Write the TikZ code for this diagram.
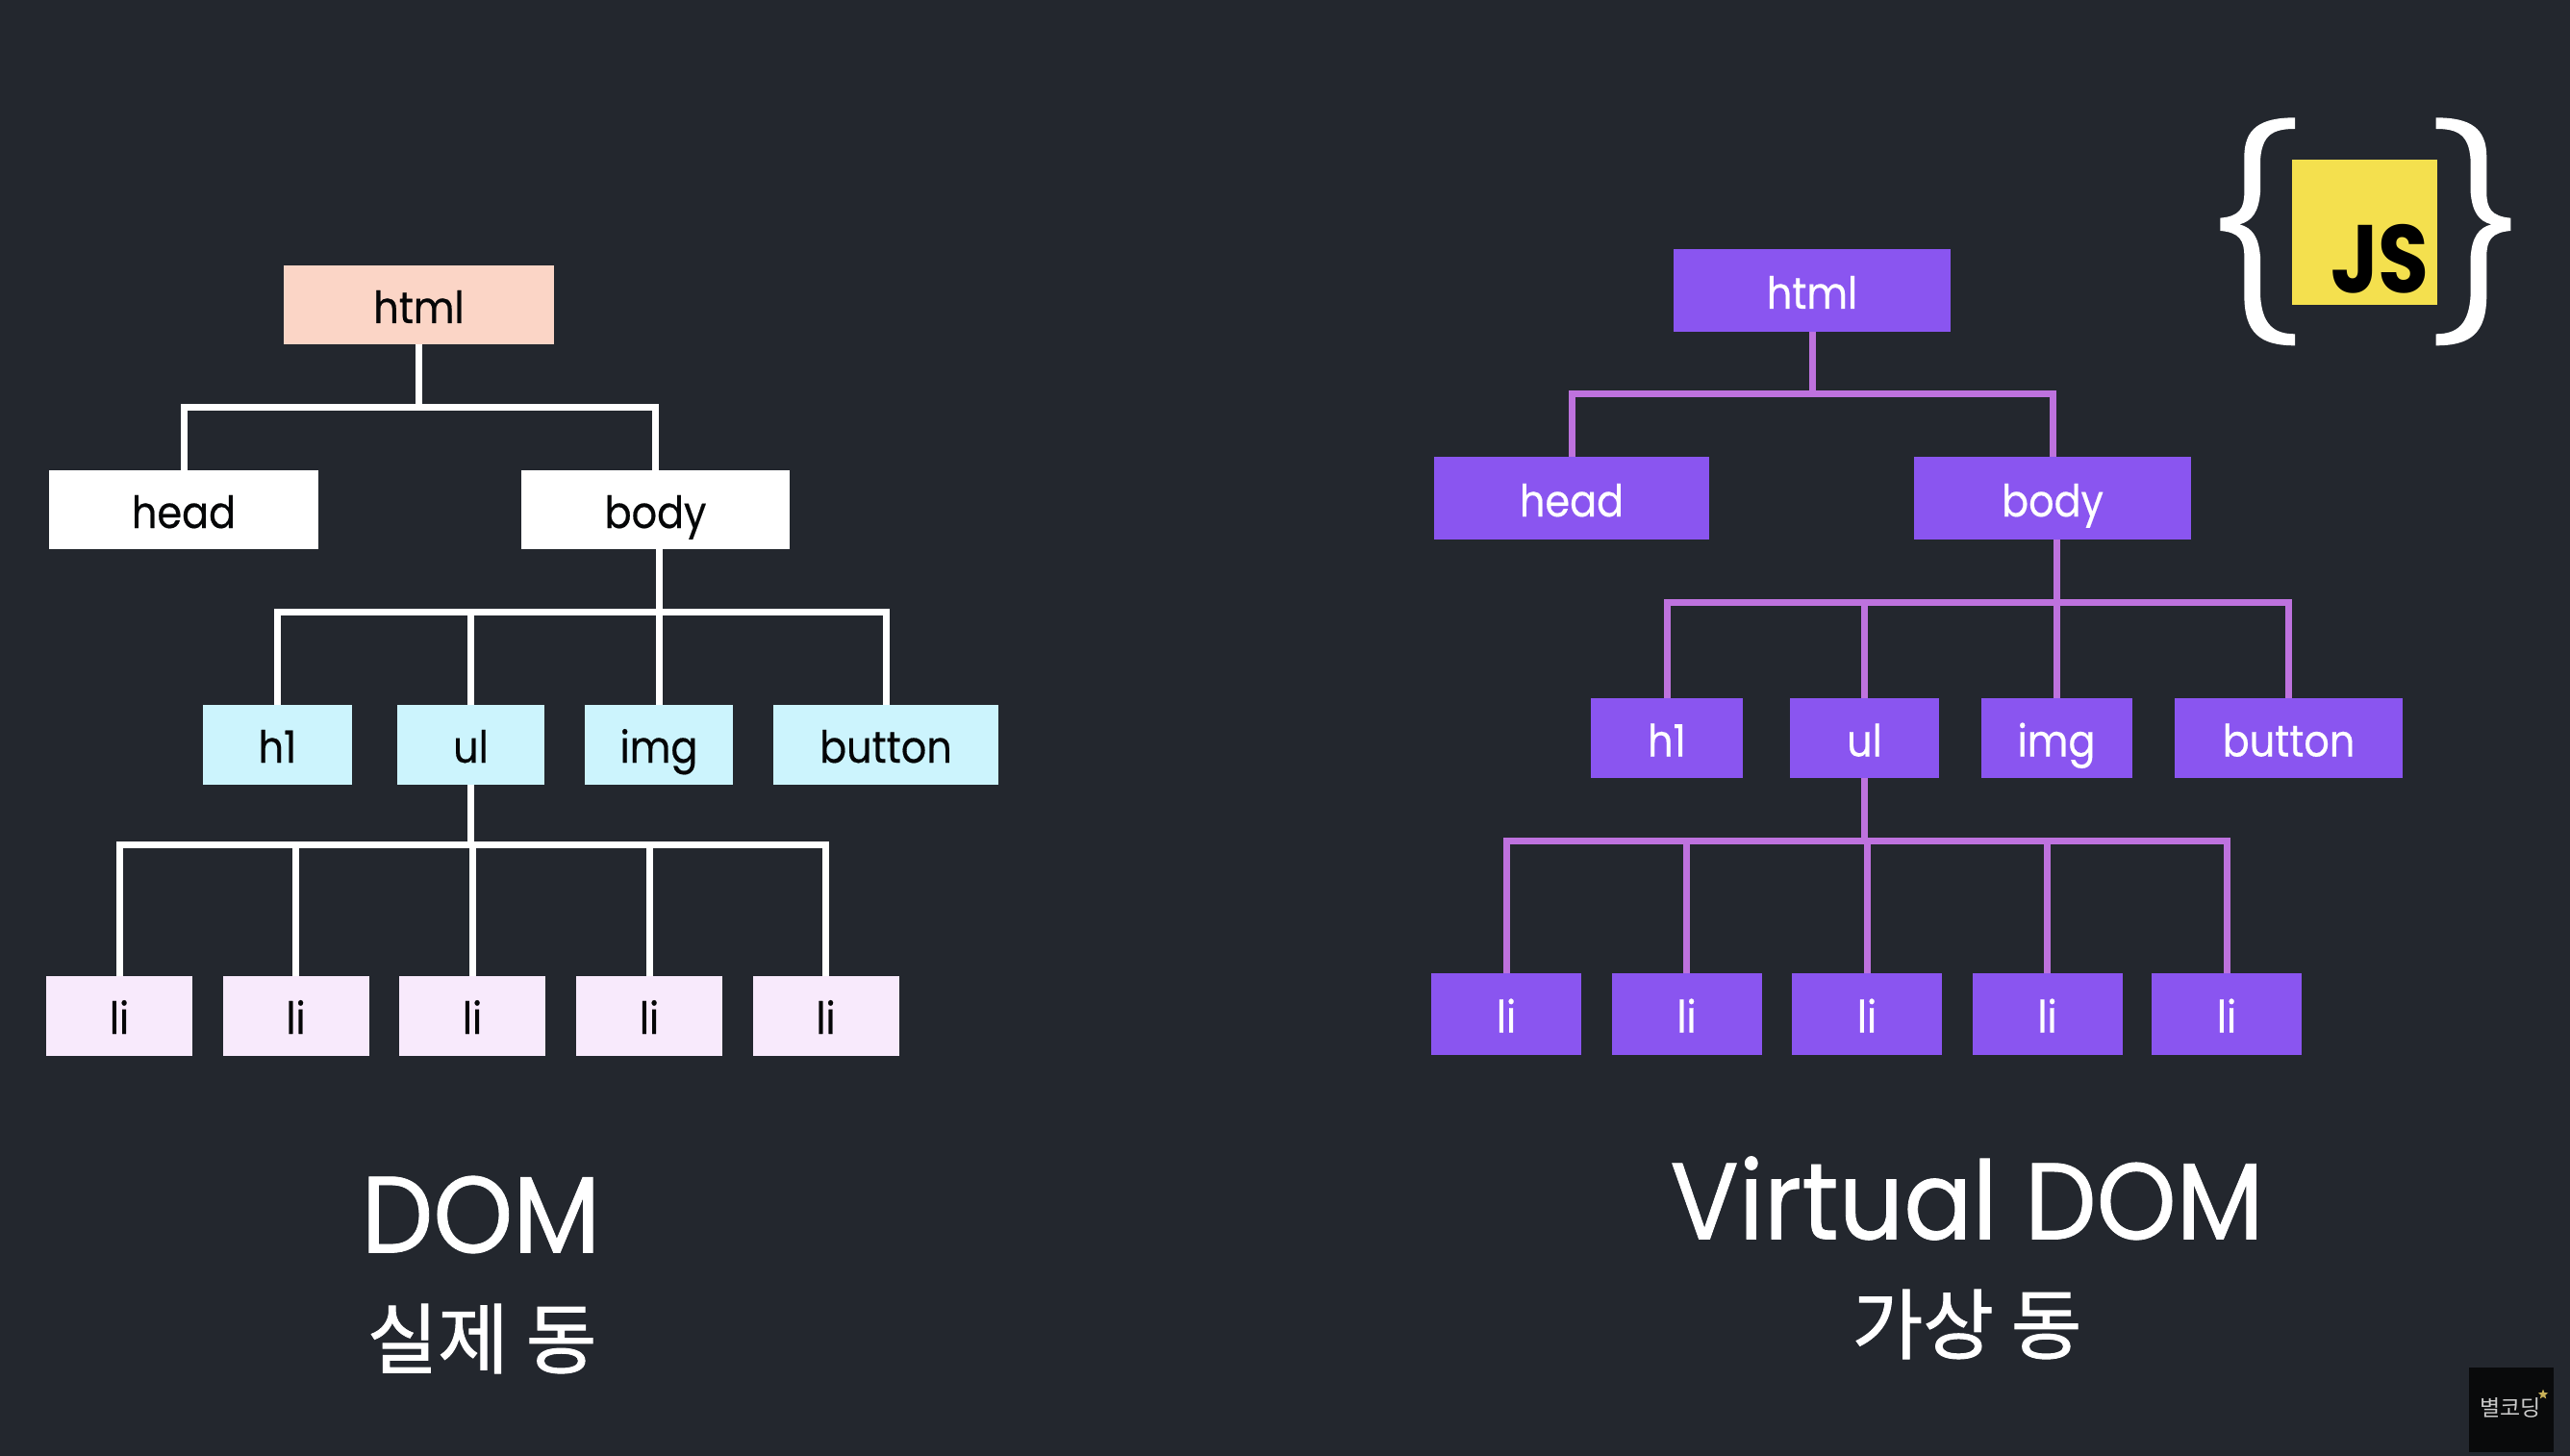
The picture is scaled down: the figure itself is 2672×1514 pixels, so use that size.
\documentclass[tikz,border=0pt]{standalone}
\usepackage{fontspec}
\usetikzlibrary{shapes.geometric}
\setmainfont{Poppins}[FakeStretch=0.9,FakeBold=0.4]
\newfontfamily\titlefont{Poppins}[FakeStretch=0.935,FakeBold=0.7]
\newfontfamily\jsfont{Poppins}[FakeStretch=0.86]
\newfontfamily\krfont{Noto Sans CJK KR}[FakeBold=1.2]
\newfontfamily\krsmall{Noto Sans CJK KR}
\definecolor{bgc}{HTML}{23272E}
\definecolor{salmon}{HTML}{FBD5C6}
\definecolor{cyanb}{HTML}{CCF4FD}
\definecolor{lilac}{HTML}{F8EAFC}
\definecolor{purp}{HTML}{8A55F0}
\definecolor{purpl}{HTML}{BE72DE}
\definecolor{jsy}{HTML}{F4E04E}
\definecolor{gold}{HTML}{C9B158}
\tikzset{
 tbox/.style={rectangle,inner sep=0pt,outer sep=0pt,font=\fontsize{46}{46}\selectfont,text height=43pt,text depth=5pt},
 lbox/.style={tbox,fill=#1,text=black!85!bgc},
 vbox/.style={tbox,fill=purp,text=white},
 wline/.style={draw=white,line width=7pt},
 pline/.style={draw=purpl,line width=7pt},
 title/.style={text=white,inner sep=0pt,font=\titlefont\fontsize{#1}{#1}\selectfont},
 krtitle/.style={text=white,inner sep=0pt,font=\krfont\fontsize{#1}{#1}\selectfont}
}
\begin{document}
\begin{tikzpicture}[x=1pt,y=-1pt]
\fill[bgc] (0,0) rectangle (2672,1514);
\useasboundingbox (0,0) rectangle (2672,1514);
% --- DOM tree
\node[lbox=salmon,minimum width=281pt,minimum height=82pt] (html) at (435.5,317) {html};
\node[lbox=white,minimum width=280pt,minimum height=82pt] (head) at (191,530) {head};
\node[lbox=white,minimum width=279pt,minimum height=82pt] (body) at (681.5,530) {body};
\node[lbox=cyanb,minimum width=155pt,minimum height=83pt] (h1) at (288.5,774) {h1};
\node[lbox=cyanb,minimum width=153pt,minimum height=83pt] (ul) at (489.5,774) {ul};
\node[lbox=cyanb,minimum width=154pt,minimum height=83pt] (img) at (685,774) {img};
\node[lbox=cyanb,minimum width=234pt,minimum height=83pt] (button) at (921,774) {button};
\foreach \n/\x in {la/124,lb/307.5,lc/491,ld/675,le/858.5}
  \node[lbox=lilac,minimum width=152pt,minimum height=83pt] (\n) at (\x,1056) {li};
\coordinate (busa) at (436,423);
\coordinate (busb) at (685,636);
\coordinate (busc) at (490,878);
\draw[wline] (html.south) -- (html.south |- busa);
\draw[wline] (head.north) |- (busa);
\draw[wline] (body.north) |- (busa);
\draw[wline] ([xshift=3.5pt]body.south) -- (busb);
\draw[wline] (h1.north) |- (busb);
\draw[wline] (ul.north) |- (busb);
\draw[wline] (img.north) -- (busb);
\draw[wline] (button.north) |- (busb);
\draw[wline] (ul.south) -- (ul.south |- busc);
\foreach \n in {la,lb,lc,ld,le} \draw[wline] (\n.north) |- (busc);
% --- Virtual DOM tree
\node[vbox,minimum width=288pt,minimum height=85pt] (vhtml) at (1884,302) {html};
\node[vbox,minimum width=286pt,minimum height=86pt] (vhead) at (1634,518) {head};
\node[vbox,minimum width=288pt,minimum height=86pt] (vbody) at (2134,518) {body};
\node[vbox,minimum width=158pt,minimum height=83pt] (vh1) at (1733,767.5) {h1};
\node[vbox,minimum width=155pt,minimum height=83pt] (vul) at (1938.5,767.5) {ul};
\node[vbox,minimum width=157pt,minimum height=83pt] (vimg) at (2138,767.5) {img};
\node[vbox,minimum width=237pt,minimum height=83pt] (vbutton) at (2379.5,767.5) {button};
\foreach \n/\x in {va/1566,vb/1753.5,vc/1941,vd/2128.5,ve/2315}
  \node[vbox,minimum width=156pt,minimum height=85pt] (\n) at (\x,1054.5) {li};
\coordinate (vbusa) at (1885,409);
\coordinate (vbusb) at (2138,626);
\coordinate (vbusc) at (1940,874);
\draw[pline] (vhtml.south) -- (vhtml.south |- vbusa);
\draw[pline] (vhead.north) |- (vbusa);
\draw[pline] (vbody.north) |- (vbusa);
\draw[pline] ([xshift=4pt]vbody.south) -- (vbusb);
\draw[pline] (vh1.north) |- (vbusb);
\draw[pline] (vul.north) |- (vbusb);
\draw[pline] (vimg.north) -- (vbusb);
\draw[pline] (vbutton.north) |- (vbusb);
\draw[pline] (vul.south) -- (vul.south |- vbusc);
\foreach \n in {va,vb,vc,vd,ve} \draw[pline] (\n.north) |- (vbusc);
% --- titles
\node[title=113] (tdom) at (500,1263) {DOM};
\node[krtitle=80] (tkr) at (501,1392) {실제 동};
\node[title=113] (tvdom) at (2045,1246) {Virtual DOM};
\node[krtitle=80] (tvkr) at (2045,1377) {가상 동};
% --- JS logo
\fill[jsy] (2383,166) rectangle (2534,317);
\node[inner sep=0pt,text=black,font=\jsfont\fontsize{100}{100}\bfseries\selectfont,anchor=base east] (js) at (2526,305) {JS};
\begin{scope}[shift={(2250,90)},x=0.3333pt,y=-0.3333pt]
\fill[white] (408,97) -- (408,132) .. controls (340,132) and (305,150) .. (300,230) -- (300,330)
 .. controls (295,390) and (275,420) .. (235,430) .. controls (275,440) and (295,470) .. (300,530)
 -- (300,650) .. controls (305,740) and (340,772) .. (408,772) -- (408,808)
 .. controls (300,808) and (250,770) .. (250,650) -- (250,530) .. controls (250,480) and (235,455) .. (175,450)
 -- (175,410) .. controls (235,405) and (250,380) .. (250,330) -- (250,220)
 .. controls (250,130) and (300,97) .. (408,97) -- cycle;
\fill[white] (848,97) -- (848,132) .. controls (916,132) and (951,150) .. (956,230) -- (956,330)
 .. controls (961,390) and (981,420) .. (1021,430) .. controls (981,440) and (961,470) .. (956,530)
 -- (956,650) .. controls (951,740) and (916,772) .. (848,772) -- (848,808)
 .. controls (956,808) and (1006,770) .. (1006,650) -- (1006,530) .. controls (1006,480) and (1021,455) .. (1081,450)
 -- (1081,410) .. controls (1021,405) and (1006,380) .. (1006,330) -- (1006,220)
 .. controls (1006,130) and (956,97) .. (848,97) -- cycle;
\end{scope}
% --- watermark
\fill[black!75!bgc] (2567,1422) rectangle (2655,1510);
\node[inner sep=0pt,text=white!80!black,font=\krsmall\fontsize{23}{23}\selectfont] (wm) at (2610,1464) {별코딩};
\node[star,star points=5,star point ratio=2.4,fill=gold,inner sep=0pt,minimum size=11pt] (st) at (2644,1450) {};
\end{tikzpicture}
\end{document}
